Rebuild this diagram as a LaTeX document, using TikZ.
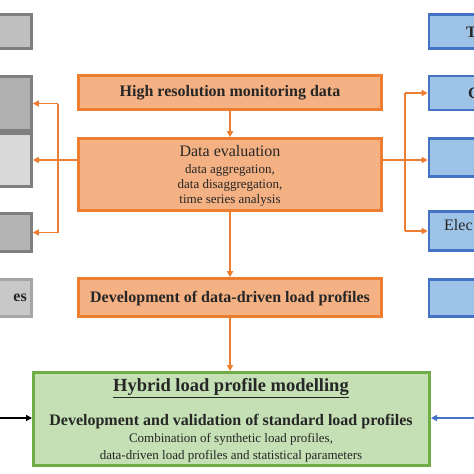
\documentclass[tikz,border=0pt]{standalone}
\usepackage{fontspec}
\setmainfont{Liberation Serif}
\usetikzlibrary{arrows.meta}
\definecolor{ofill}{HTML}{F4B183}
\definecolor{oline}{HTML}{ED7D31}
\definecolor{bfill}{HTML}{9DC3E6}
\definecolor{bline}{HTML}{4472C4}
\definecolor{gfill}{HTML}{C5E0B4}
\definecolor{gline}{HTML}{70AD47}
\definecolor{grline}{HTML}{7F7F7F}
\definecolor{txt}{HTML}{262626}
\begin{document}
\begin{tikzpicture}[x=1pt,y=-1pt,
  obox/.style={draw=oline, fill=ofill, line width=2.6pt, inner sep=0pt},
  gbox/.style={draw=grline, line width=2.6pt, inner sep=0pt},
  bbox/.style={draw=bline, fill=bfill, line width=2.6pt, inner sep=0pt},
  hbox/.style={draw=gline, fill=gfill, line width=3pt, inner sep=0pt},
  tx/.style={text=txt, inner sep=0pt},
  bigb/.style={tx, font=\fontsize{16}{19}\selectfont\bfseries},
  reg/.style={tx, font=\fontsize{16}{19}\selectfont},
  small/.style={tx, font=\fontsize{13}{15}\selectfont},
  oarrow/.style={draw=oline, line width=1.6pt, -{Triangle[length=6pt,width=6pt]}},
  oline/.style={draw=oline, line width=1.6pt}]
\useasboundingbox (0,0) rectangle (474,474);
\clip (0,0) rectangle (474,474);
\fill[white] (0,0) rectangle (474,474);
% orange boxes
\node[obox, minimum width=303pt, minimum height=34pt] (hr) at (230,92.5) {};
\node[obox, minimum width=303pt, minimum height=72pt] (de) at (230,174.5) {};
\node[obox, minimum width=303pt, minimum height=38pt] (dev) at (230,297.5) {};
\node[bigb] (thr) at (230,93) {High resolution monitoring data};
\node[reg] (tde) at (230,151) {Data evaluation};
\node[small] (tde1) at (230,170) {data aggregation,};
\node[small] (tde2) at (230,185) {data disaggregation,};
\node[small] (tde3) at (230,200) {time series analysis};
\node[bigb] (tdev) at (230,299) {Development of data-driven load profiles};
% gray boxes (left)
\node[gbox, fill={rgb,255:red,192;green,192;blue,192}, minimum width=50pt, minimum height=34pt] (l1) at (6.5,31.5) {};
\node[gbox, fill={rgb,255:red,176;green,176;blue,176}, minimum width=50pt, minimum height=54pt] (l2) at (6.5,103.5) {};
\node[gbox, fill={rgb,255:red,218;green,218;blue,218}, minimum width=50pt, minimum height=53pt] (l3) at (6.5,160) {};
\node[gbox, fill={rgb,255:red,180;green,180;blue,180}, minimum width=50pt, minimum height=38pt] (l4) at (6.5,232.5) {};
\node[gbox, draw={rgb,255:red,166;green,166;blue,166}, fill={rgb,255:red,200;green,200;blue,200}, minimum width=50pt, minimum height=37pt] (l5) at (6.5,298) {};
\node[bigb, anchor=east] (tl5) at (27,298) {es};
% blue boxes (right)
\node[bbox, minimum width=70pt, minimum height=34pt] (r1) at (464,31.5) {};
\node[bbox, minimum width=70pt, minimum height=34pt] (r2) at (464,93) {};
\node[bbox, minimum width=70pt, minimum height=38pt] (r3) at (464,157.5) {};
\node[bbox, minimum width=70pt, minimum height=39pt] (r4) at (464,231) {};
\node[bbox, minimum width=70pt, minimum height=37pt] (r5) at (464,298) {};
\node[bigb, anchor=west] (tr1) at (466,32) {T};
\node[bigb, anchor=west] (tr2) at (468,93) {G};
\node[reg, anchor=west] (tr4) at (444,225) {Elec};
% green box
\node[hbox, minimum width=396pt, minimum height=93pt] (hy) at (231.5,419) {};
\node[tx, font=\fontsize{18.5}{22}\selectfont\bfseries] (thy) at (231,388) {\underline{Hybrid load profile modelling}};
\node[bigb] (thy1) at (231,422) {Development and validation of standard load profiles};
\node[small] (thy2) at (231,439) {Combination of synthetic load profiles,};
\node[small] (thy3) at (231,456) {data-driven load profiles and statistical parameters};
% connectors
\draw[oarrow] (hr.south) -- (de.north);
\draw[oarrow] (de.south) -- (dev.north);
\draw[oarrow] (dev.south) -- (dev.south |- hy.north);
\coordinate (jl) at (58,160);
\coordinate (jr) at (405,160);
\draw[oarrow] (de.west |- jl) -- (l3.east |- jl);
\draw[oline] (jl |- l2.east) -- (jl |- l4.east);
\draw[oarrow] (jl |- l2.east) -- (l2.east);
\draw[oarrow] (jl |- l4.east) -- (l4.east);
\draw[oarrow] (de.east |- jr) -- (r3.west |- jr);
\draw[oline] (jr |- r2.west) -- (jr |- r4.west);
\draw[oarrow] (jr |- r2.west) -- (r2.west);
\draw[oarrow] (jr |- r4.west) -- (r4.west);
\coordinate (bl) at (0,418);
\coordinate (br) at (474,418);
\draw[line width=1.6pt, -{Triangle[length=6pt,width=6pt]}] (bl) -- (hy.west |- bl);
\draw[draw=bline, line width=1.6pt, -{Triangle[length=6pt,width=6pt]}] (br) -- (hy.east |- br);
\end{tikzpicture}
\end{document}
